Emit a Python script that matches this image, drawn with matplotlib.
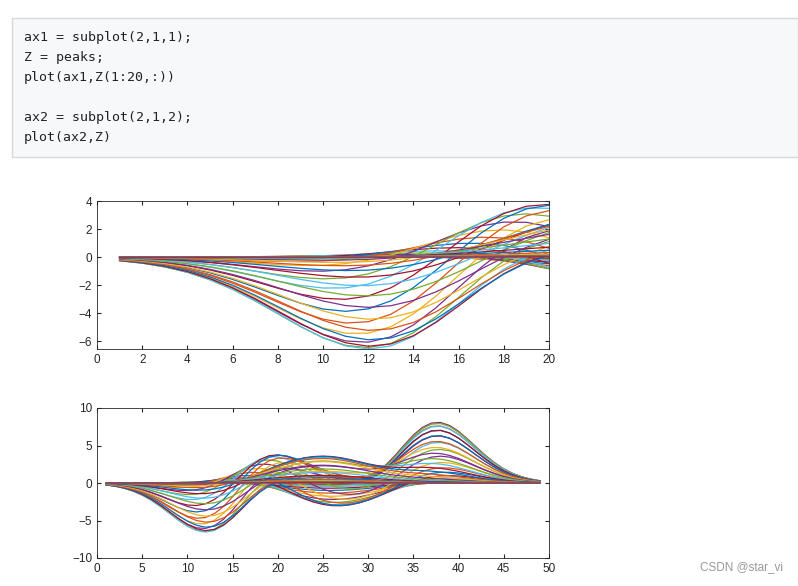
import numpy as np
import matplotlib
matplotlib.use('Agg')
import matplotlib.pyplot as plt
from matplotlib.patches import Rectangle

# the chart is MATLAB's peaks(49) surface, shown as in the code block
n = 49
grid = np.linspace(-3, 3, n)
xx, yy = np.meshgrid(grid, grid)
Z = (3 * (1 - xx) ** 2 * np.exp(-xx ** 2 - (yy + 1) ** 2)
     - 10 * (xx / 5 - xx ** 3 - yy ** 5) * np.exp(-xx ** 2 - yy ** 2)
     - 1 / 3 * np.exp(-(xx + 1) ** 2 - yy ** 2))

code_lines = ["ax1 = subplot(2,1,1);", "Z = peaks;", "plot(ax1,Z(1:20,:))", "",
              "ax2 = subplot(2,1,2);", "plot(ax2,Z)"]
matlab_colors = ['#0072BD', '#D95319', '#EDB120', '#7E2F8E', '#77AC30', '#4DBEEE', '#A2142F']

W, H = 798, 586
fig = plt.figure(figsize=(W / 100, H / 100), dpi=100)
plt.rcParams['font.family'] = ['Liberation Sans', 'DejaVu Sans']

# code block
fig.patches.append(Rectangle((12 / W, 1 - 157 / H), (W - 12) / W, 139 / H,
                             transform=fig.transFigure, facecolor='#f6f8fa',
                             edgecolor='#d8d8d8', lw=1))
for i, line in enumerate(code_lines):
    fig.text(24 / W, 1 - (38 + 20 * i) / H, line, family='DejaVu Sans Mono',
             fontsize=9.5, color='#222222', va='center')


def draw(rect, data, xlim, xticks, yticks, ylim):
    ax = fig.add_axes([rect[0] / W, 1 - rect[3] / H, (rect[2] - rect[0]) / W, (rect[3] - rect[1]) / H])
    ax.set_prop_cycle(color=matplotlib_colors)
    x = np.arange(1, data.shape[0] + 1)
    ax.plot(x, data, lw=0.9)
    ax.set_xlim(*xlim)
    ax.set_ylim(*ylim)
    ax.set_xticks(xticks)
    ax.set_yticks(yticks)
    ax.tick_params(direction='in', labelsize=8.5, colors='#262626', length=3, top=True, right=True,
                   labeltop=False, labelright=False)
    for s in ax.spines.values():
        s.set_linewidth(0.6)
        s.set_color('#262626')
    return ax


matplotlib_colors = matlab_colors
Z1 = Z[:20, :]
draw((97, 201, 549, 349), Z1, (0, 20), range(0, 21, 2), range(-6, 5, 2), (Z1.min(), Z1.max()))
draw((97, 408, 549, 558), Z, (0, 50), range(0, 51, 5), range(-10, 11, 5), (-10, 10))

fig.text(783 / W, 1 - 567 / H, "CSDN @star_vi", fontsize=8.5, color='#999999', ha='right', va='center')

fig.savefig('out.png', dpi=100)
